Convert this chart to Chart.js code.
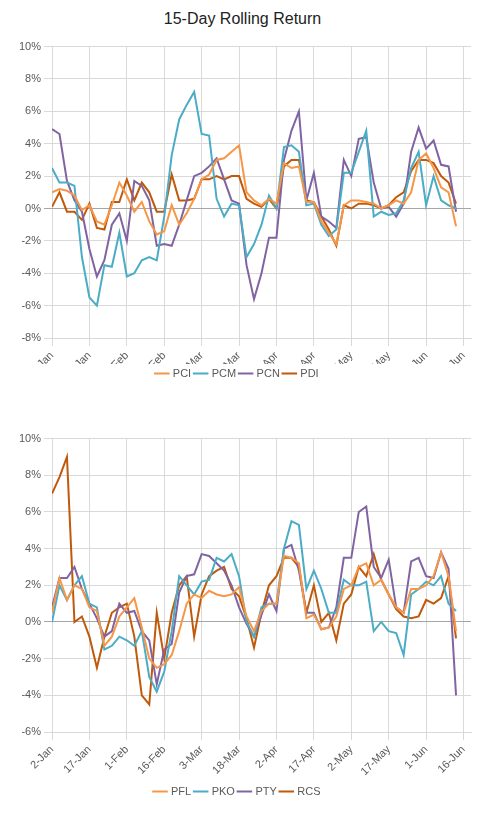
<!DOCTYPE html>
<html><head><meta charset="utf-8">
<script src="https://cdn.jsdelivr.net/npm/chart.js@4.4.0/dist/chart.umd.min.js"></script>
<style>
body{margin:0;background:#fff;font-family:Calibri,"Liberation Sans",Arial,sans-serif;}
#t{position:absolute;left:0;top:10px;width:485px;text-align:center;font-size:16px;color:#222;font-family:"Liberation Sans",Arial,sans-serif;}
.w{position:absolute;left:0;width:485px;}
</style></head><body>
<div id="t">15-Day Rolling Return</div>
<div class="w" style="top:37px;height:352px"><canvas id="c1"></canvas></div>
<div class="w" style="top:429px;height:378px"><canvas id="c2"></canvas></div>
<script>
const days=[];for(let d=0;d<=162;d+=3)days.push(d);
const tickDays=[0,15,30,45,60,75,90,105,120,135,150,165];
const tickLabels=['2-Jan','17-Jan','1-Feb','16-Feb','3-Mar','18-Mar','2-Apr','17-Apr','2-May','17-May','1-Jun','16-Jun'];
const PCI=[1.0,1.2,1.1,0.8,-0.1,0.2,-0.8,-1.0,0.2,1.6,0.8,-0.2,0.4,-0.8,-1.6,-1.4,0.2,-1.0,-0.3,0.6,1.8,2.1,3.0,3.1,3.5,3.9,1.0,0.5,0.2,0.6,0.3,2.8,2.5,2.6,0.4,0.4,-0.8,-1.5,-2.2,0.2,0.5,0.5,0.4,0.3,0.0,0.2,0.5,0.3,1.0,3.0,3.4,2.5,1.3,1.0,-1.1];
const PCM=[2.5,1.6,1.6,1.4,-3.0,-5.5,-6.0,-3.5,-3.6,-1.5,-4.2,-4.0,-3.2,-3.0,-3.2,-0.5,3.3,5.5,6.4,7.2,4.6,4.5,0.6,-0.5,0.3,0.2,-3.0,-2.2,-1.0,0.8,0.0,3.8,3.9,3.5,0.2,0.3,-1.0,-1.7,-1.3,2.2,2.2,3.5,4.8,-0.5,-0.2,-0.4,-0.3,0.5,2.5,3.5,0.2,2.0,0.5,0.2,0.0];
const PCN=[4.9,4.6,1.7,0.5,-0.2,-2.5,-4.2,-3.2,-1.0,-0.3,-2.0,1.7,1.4,0.5,-2.3,-2.2,-2.3,-1.0,0.5,2.0,2.2,2.6,3.1,1.8,0.5,0.3,-3.5,-5.6,-4.0,-1.8,-1.8,3.0,4.8,6.0,0.5,2.2,-0.5,-0.8,-1.2,3.0,2.0,4.3,4.4,1.6,0.0,0.1,-0.5,0.3,3.5,5.0,3.7,4.2,2.7,2.6,-0.2];
const PDI=[0.1,1.0,-0.2,-0.2,-0.7,0.3,-1.2,-1.3,0.4,0.4,1.8,0.5,1.6,1.0,-0.2,-0.2,2.1,0.5,0.5,0.6,1.8,1.8,2.0,1.8,2.0,2.0,0.6,0.3,0.1,0.6,0.0,2.6,3.0,3.0,0.5,0.4,-0.5,-1.3,-2.3,0.2,0.0,0.3,0.3,0.2,0.0,0.2,0.7,1.0,2.3,3.0,3.0,2.8,2.0,1.6,0.3];
const PFL=[0.5,2.4,1.2,2.0,1.8,0.8,0.6,-1.3,-0.8,0.3,0.8,1.3,-0.3,-2.0,-2.5,-2.3,-1.8,-0.5,1.0,1.5,1.3,1.7,1.5,1.4,1.5,1.9,0.3,-0.5,0.6,1.0,1.0,3.6,3.5,3.2,0.2,0.4,-0.4,-0.3,0.3,1.8,2.0,3.0,3.2,2.0,2.3,1.5,0.8,0.5,1.8,1.8,2.0,2.5,3.8,2.5,-0.5];
const PKO=[0.0,2.0,1.2,2.0,2.5,1.0,0.8,-1.5,-1.3,-0.8,-1.0,-1.3,-0.5,-3.0,-3.8,-2.7,-0.5,2.5,2.0,1.5,2.2,2.3,3.5,3.3,3.7,2.5,0.0,-0.8,0.8,1.0,1.0,4.0,5.5,5.3,1.8,2.8,1.8,0.5,0.5,2.3,2.0,2.0,2.2,-0.5,0.0,-0.5,-0.6,-1.8,1.5,1.8,2.2,2.0,2.5,1.0,0.6];
const PTY=[0.8,2.4,2.4,3.0,1.8,1.0,0.2,-0.8,-0.5,1.0,0.5,0.6,-0.5,-1.0,-3.4,-1.5,-1.2,1.6,2.5,2.6,3.7,3.6,3.2,2.8,2.0,0.8,-0.1,-0.8,0.4,1.5,0.6,4.0,4.2,2.8,0.5,0.5,-0.4,-0.3,0.8,3.5,3.5,6.0,6.3,3.0,2.4,3.4,0.8,0.5,3.3,3.5,2.5,2.4,3.8,2.9,-4.0];
const RCS=[7.0,7.9,9.0,0.0,0.3,-0.8,-2.5,-0.8,0.5,0.8,1.0,-0.8,-4.0,-4.5,0.5,-2.0,0.5,2.0,2.5,-0.8,1.5,2.5,2.8,3.0,1.8,1.4,0.2,-1.4,0.5,2.0,2.5,3.5,3.5,3.0,0.5,2.0,0.0,0.5,-1.0,1.0,1.5,3.0,2.5,3.7,2.3,1.5,0.7,0.3,0.2,0.3,1.2,1.0,1.3,2.5,-0.9];
const C1='#F79646',C2='#4BACC6',C3='#8064A2',C4='#C0590A';
function ds(label,arr,color){return {label,data:arr.map((v,i)=>({x:days[i],y:v})),borderColor:color,backgroundColor:color,borderWidth:2,pointRadius:0,tension:0};}
function opts(min,max,xh){return {responsive:true,maintainAspectRatio:false,animation:false,
 layout:{padding:{left:4,right:14,top:4,bottom:0}},
 plugins:{legend:{position:'bottom',labels:{usePointStyle:true,pointStyle:'line',boxWidth:24,font:{size:11},color:'#595959',padding:4}},tooltip:{enabled:false}},
 scales:{x:{type:'linear',min:0,max:168,afterBuildTicks:s=>{s.ticks=tickDays.map(v=>({value:v}));},
   afterFit:s=>{s.height=xh;},
   ticks:{callback:v=>tickLabels[tickDays.indexOf(v)],maxRotation:45,minRotation:45,font:{size:11},color:'#595959',autoSkip:false},
   grid:{color:'#d9d9d9'},border:{color:'#d9d9d9'}},
  y:{min,max,afterFit:s=>{s.width=48;},ticks:{stepSize:2,callback:v=>v+'%',font:{size:11},color:'#595959'},
   grid:{color:c=>c.tick&&c.tick.value===0?'#a6a6a6':'#d9d9d9'},border:{display:false}}}};}
new Chart(document.getElementById('c1'),{type:'line',data:{datasets:[ds('PCI',PCI,C1),ds('PCM',PCM,C2),ds('PCN',PCN,C3),ds('PDI',PDI,C4)]},options:opts(-8,10,26)});
new Chart(document.getElementById('c2'),{type:'line',data:{datasets:[ds('PFL',PFL,C1),ds('PKO',PKO,C2),ds('PTY',PTY,C3),ds('RCS',RCS,C4)]},options:opts(-6,10,50)});
</script></body></html>
